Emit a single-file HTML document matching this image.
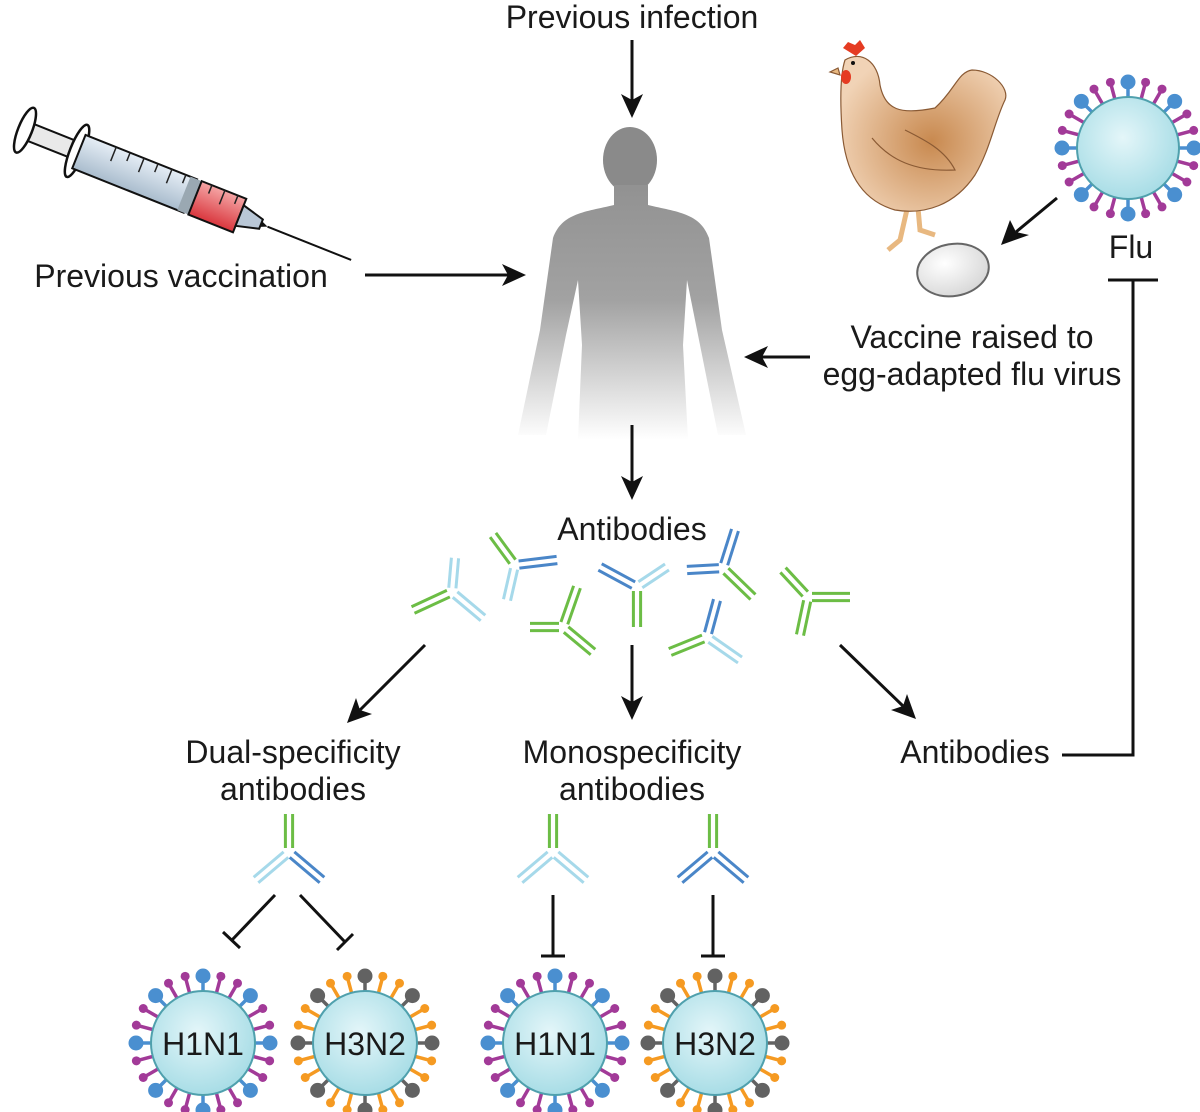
<!DOCTYPE html>
<html><head><meta charset="utf-8">
<style>
html,body{margin:0;padding:0;background:#fff;}
svg{display:block;}
text{font-family:"Liberation Sans",Arial,sans-serif;fill:#1a1a1a;}
</style></head>
<body>
<svg id="s" width="1200" height="1112" viewBox="0 0 1200 1112" xmlns="http://www.w3.org/2000/svg">
<defs>
<linearGradient id="pg" x1="0" y1="130" x2="0" y2="440" gradientUnits="userSpaceOnUse">
<stop offset="0" stop-color="#8a8a8a"/><stop offset="0.55" stop-color="#a2a2a2"/><stop offset="1" stop-color="#ffffff"/></linearGradient>
<radialGradient id="vg" cx="0.45" cy="0.4" r="0.6"><stop offset="0" stop-color="#e4f6f9"/><stop offset="1" stop-color="#a8dde6"/></radialGradient>
<linearGradient id="bar" x1="0" y1="0" x2="0" y2="1"><stop offset="0" stop-color="#e6eef6"/><stop offset="1" stop-color="#a9bccd"/></linearGradient>
<linearGradient id="red" x1="0" y1="0" x2="0" y2="1"><stop offset="0" stop-color="#f5a5a5"/><stop offset="1" stop-color="#d9363d"/></linearGradient>
<radialGradient id="ck" cx="0.55" cy="0.55" r="0.6"><stop offset="0" stop-color="#c8894f"/><stop offset="1" stop-color="#f1d3b6"/></radialGradient>
<radialGradient id="egg" cx="0.4" cy="0.35" r="0.7"><stop offset="0" stop-color="#ffffff"/><stop offset="1" stop-color="#d6d6d6"/></radialGradient>
</defs>
<g id="art"></g>

<!-- person -->
<ellipse cx="630" cy="160" rx="27" ry="33" fill="#8a8a8a"/>
<path d="M614 185 L614 205 C585 212 562 213 553 238 L540 330 L518 435 L546 435 L566 335 L578 280 L582 345 L578 440 L688 440 L683 345 L687 280 L698 335 L718 435 L746 435 L722 330 L709 238 C700 213 677 212 648 205 L648 185 Z" fill="url(#pg)"/>

<!-- syringe -->
<g transform="translate(12,125) rotate(21.7)">
  <rect x="14" y="-9" width="58" height="18" fill="#e9e9e9" stroke="#111" stroke-width="2"/>
  <ellipse cx="14" cy="0" rx="7" ry="24" fill="#fff" stroke="#111" stroke-width="2.5"/>
  <ellipse cx="70" cy="0" rx="7" ry="28" fill="#fff" stroke="#111" stroke-width="2.5"/>
  <rect x="72" y="-18" width="120" height="36" fill="url(#bar)" stroke="#111" stroke-width="2"/>
  <rect x="185" y="-18" width="12" height="36" fill="#9aa8b2"/>
  <rect x="197" y="-18" width="48" height="36" fill="url(#red)" stroke="#111" stroke-width="2"/>
  <path d="M245 -11 L268 -5 L268 5 L245 11 Z" fill="#b9c7d6" stroke="#111" stroke-width="2"/>
  <path d="M268 -3 L275 0 L268 3 Z" fill="#111"/>
  <line x1="275" y1="0" x2="365" y2="0" stroke="#111" stroke-width="2"/>
  <g stroke="#222" stroke-width="1.5">
   <line x1="105" y1="-18" x2="105" y2="-3"/><line x1="120" y1="-18" x2="120" y2="-9"/><line x1="135" y1="-18" x2="135" y2="-3"/><line x1="150" y1="-18" x2="150" y2="-9"/><line x1="165" y1="-18" x2="165" y2="-3"/><line x1="180" y1="-18" x2="180" y2="-9"/><line x1="208" y1="-18" x2="208" y2="-9"/><line x1="222" y1="-18" x2="222" y2="-3"/><line x1="236" y1="-18" x2="236" y2="-9"/>
  </g>
</g>

<!-- chicken -->
<g stroke="#8a5a34" stroke-width="1.2">
  <path d="M908 205 L900 240 L888 250 M918 208 L920 230 L935 235" fill="none" stroke="#e8b880" stroke-width="5"/>
  <path d="M845 60 C862 50 878 62 880 85 C885 110 900 115 935 108 C955 90 958 72 972 70 C992 70 1010 88 1005 100 C995 120 990 150 975 175 C955 205 925 215 895 210 C860 200 845 170 842 130 C840 100 840 75 845 60 Z" fill="url(#ck)"/>
  <path d="M872 138 C890 160 915 172 955 170 C945 150 925 140 905 130" fill="none"/>
  <path d="M843 48 L848 42 L855 45 L860 40 L865 48 L856 56 Z" fill="#e53b22" stroke="none"/>
  <path d="M838 68 L830 72 L840 75 Z" fill="#e8b880" stroke="#8a5a34"/>
  <ellipse cx="846" cy="77" rx="5" ry="7" fill="#e53b22" stroke="none"/>
  <circle cx="853" cy="63" r="2" fill="#111" stroke="none"/>
</g>
<ellipse cx="953" cy="270" rx="36" ry="26" fill="url(#egg)" stroke="#666" stroke-width="2" transform="rotate(-10 953 270)"/>

<!-- arrows & lines -->
<g stroke="#111" stroke-width="3" fill="none">
 <line x1="632" y1="40" x2="632" y2="100"/>
 <line x1="365" y1="275" x2="508" y2="275"/>
 <line x1="810" y1="357" x2="762" y2="357"/>
 <line x1="1057" y1="198" x2="1016" y2="232"/>
 <line x1="632" y1="425" x2="632" y2="482"/>
 <line x1="425" y1="645" x2="360" y2="710"/>
 <line x1="632" y1="645" x2="632" y2="702"/>
 <line x1="840" y1="645" x2="903" y2="706"/>
 <polyline points="1133,280 1133,755 1062,755"/>
 <line x1="1108" y1="280" x2="1158" y2="280"/>
 <line x1="275" y1="895" x2="232" y2="940"/><line x1="223" y1="932" x2="240" y2="948"/>
 <line x1="300" y1="895" x2="345" y2="942"/><line x1="337" y1="950" x2="353" y2="934"/>
 <line x1="553" y1="895" x2="553" y2="956"/><line x1="541" y1="956" x2="565" y2="956"/>
 <line x1="713" y1="895" x2="713" y2="956"/><line x1="701" y1="956" x2="725" y2="956"/>
</g>
<g fill="#111">
 <path d="M632 118 L621 94 L632 100 L643 94 Z"/>
 <path d="M526 275 L502 264 L508 275 L502 286 Z"/>
 <path d="M744 357 L768 346 L762 357 L768 368 Z"/>
 <path d="M1001 245 L1010 220 L1016 232 L1029 235 Z"/>
 <path d="M632 500 L621 476 L632 482 L643 476 Z"/>
 <path d="M347 723 L356 698 L360 710 L372 714 Z"/>
 <path d="M632 720 L621 696 L632 702 L643 696 Z"/>
 <path d="M916 719 L891 710 L903 706 L907 694 Z"/>
</g>

<text x="632" y="28" font-size="32" text-anchor="middle">Previous infection</text>
<text x="181" y="287" font-size="32" text-anchor="middle">Previous vaccination</text>
<text x="972" y="348" font-size="32" text-anchor="middle">Vaccine raised to</text>
<text x="972" y="385" font-size="32" text-anchor="middle">egg-adapted flu virus</text>
<text x="1131" y="258" font-size="32" text-anchor="middle">Flu</text>
<text x="632" y="540" font-size="32" text-anchor="middle">Antibodies</text>
<text x="293" y="763" font-size="32" text-anchor="middle">Dual-specificity</text>
<text x="293" y="800" font-size="32" text-anchor="middle">antibodies</text>
<text x="632" y="763" font-size="32" text-anchor="middle">Monospecificity</text>
<text x="632" y="800" font-size="32" text-anchor="middle">antibodies</text>
<text x="975" y="763" font-size="32" text-anchor="middle">Antibodies</text>
<g id="vlabels">
<text x="203" y="1055" font-size="32" text-anchor="middle">H1N1</text>
<text x="365" y="1055" font-size="32" text-anchor="middle">H3N2</text>
<text x="555" y="1055" font-size="32" text-anchor="middle">H1N1</text>
<text x="715" y="1055" font-size="32" text-anchor="middle">H3N2</text>
</g>
</svg>
<script>
var NS="http://www.w3.org/2000/svg",art=document.getElementById('art');
function el(t,a,p){var e=document.createElementNS(NS,t);for(var k in a)e.setAttribute(k,a[k]);(p||art).appendChild(e);return e;}
var G="#6cbd45",B="#4a86c8",L="#a6d9ea";
function dbl(x1,y1,x2,y2,c){var dx=x2-x1,dy=y2-y1,l=Math.hypot(dx,dy),nx=-dy/l*3.6,ny=dx/l*3.6;
 el('line',{x1:x1+nx,y1:y1+ny,x2:x2+nx,y2:y2+ny,stroke:c,'stroke-width':3});
 el('line',{x1:x1-nx,y1:y1-ny,x2:x2-nx,y2:y2-ny,stroke:c,'stroke-width':3});}
function ab(j,parts){parts.forEach(function(p){var dx=p[0]-j[0],dy=p[1]-j[1],l=Math.hypot(dx,dy);dbl(j[0]+dx/l*4,j[1]+dy/l*4,p[0],p[1],p[2]);});}
ab([452,592],[[413,610,G],[455,558,L],[483,618,L]]);
ab([515,565],[[493,535,G],[557,560,B],[507,600,L]]);
ab([563,627],[[530,627,G],[577,587,G],[593,652,G]]);
ab([637,587],[[637,627,G],[600,567,B],[667,567,L]]);
ab([723,568],[[735,530,B],[687,570,B],[753,597,G]]);
ab([707,637],[[717,600,B],[670,652,G],[740,660,L]]);
ab([808,597],[[783,570,G],[850,597,G],[800,635,G]]);
ab([289,852],[[289,814,G],[256,880,L],[322,880,B]]);
ab([553,852],[[553,814,G],[520,880,L],[586,880,L]]);
ab([713,852],[[713,814,G],[680,880,B],[746,880,B]]);
function virus(cx,cy,r,c1,c2,n){var g=el('g',{});
 for(var i=0;i<n;i++){var a=i/n*2*Math.PI-Math.PI/2,big=(i%3==0),ca=Math.cos(a),sa=Math.sin(a);
  var col=big?c2:c1,len=big?12:16;
  el('line',{x1:cx+ca*r,y1:cy+sa*r,x2:cx+ca*(r+len),y2:cy+sa*(r+len),stroke:col,'stroke-width':3.5},g);
  if(big){el('circle',{cx:cx+ca*(r+15),cy:cy+sa*(r+15),r:7.5,fill:col},g);}
  else{el('circle',{cx:cx+ca*(r+17),cy:cy+sa*(r+17),r:4.5,fill:col},g);}
 }
 el('circle',{cx:cx,cy:cy,r:r,fill:'url(#vg)',stroke:'#4fa0ad','stroke-width':2},g);}
var P="#a23a98",BL="#4a8fd0",O="#f59a22",GR="#626262";
virus(1128,148,51,P,BL,24);
virus(203,1043,52,P,BL,24);
virus(365,1043,52,O,GR,24);
virus(555,1043,52,P,BL,24);
virus(715,1043,52,O,GR,24);
var s=document.getElementById('s');s.appendChild(document.getElementById('vlabels'));
</script>
</body></html>
